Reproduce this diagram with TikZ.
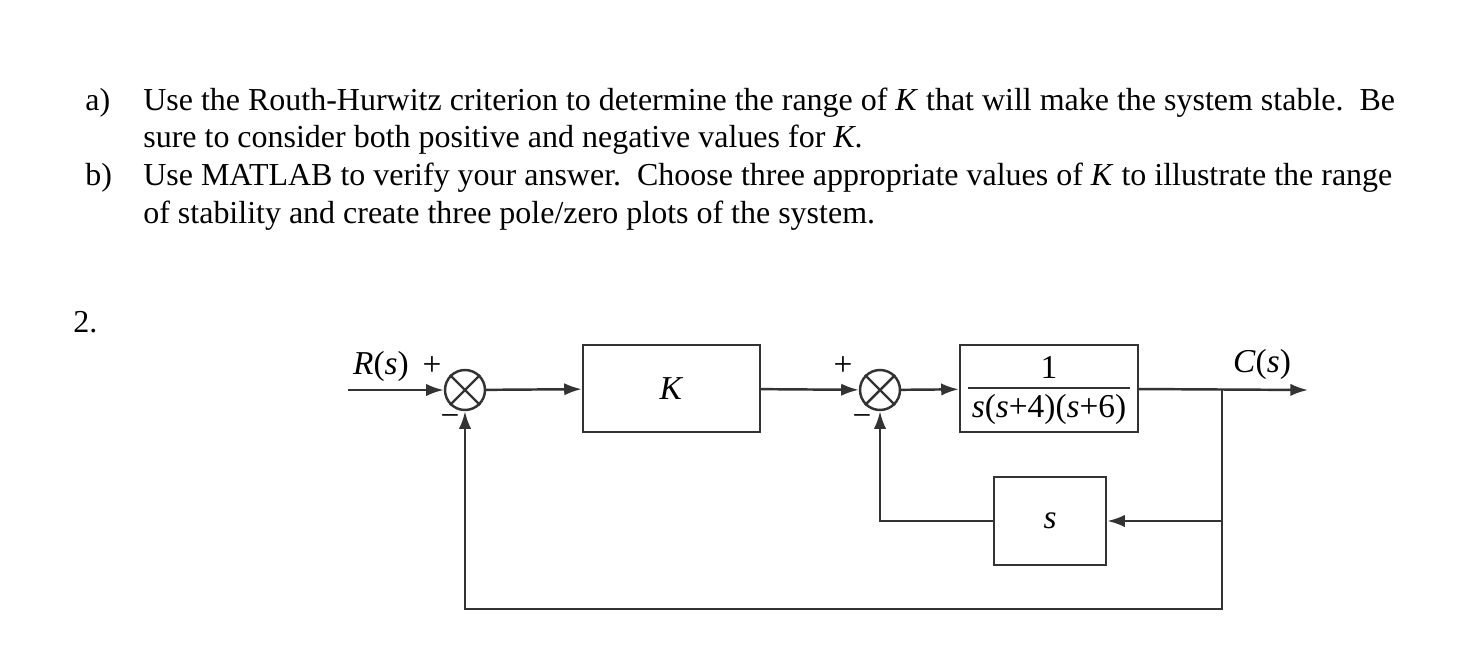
\documentclass[tikz,border=0pt]{standalone}
\usepackage{fontspec}
\setmainfont{Liberation Serif}
\usetikzlibrary{arrows.meta}
\begin{document}
\begin{tikzpicture}[x=0.02cm,y=-0.02cm,
  ln/.style={line width=1.4pt,draw=black!80},
  arr/.style={ln,-{Latex[length=10pt,width=7pt]}},
  blk/.style={ln,draw,rectangle,inner sep=0pt},
  sumj/.style={ln,draw,circle,minimum size=0.8cm,inner sep=0pt},
  txt/.style={font=\fontsize{18.2}{21}\selectfont,anchor=base west,inner sep=0pt},
  lab/.style={font=\fontsize{19}{22}\selectfont,inner sep=0pt}]
\useasboundingbox (0,0) rectangle (1464,666);
% text
\node[txt] (la) at (85,110) {a)};
\node[txt] (t1) at (143,110) {Use the Routh-Hurwitz criterion to determine the range of \textit{K} that will make the system stable.\ \ Be};
\node[txt] (t2) at (143,147) {sure to consider both positive and negative values for \textit{K}.};
\node[txt] (lb) at (85,185) {b)};
\node[txt] (t3) at (143,185) {Use MATLAB to verify your answer.\ \ Choose three appropriate values of \textit{K} to illustrate the range};
\node[txt] (t4) at (143,223) {of stability and create three pole/zero plots of the system.};
\node[txt] (n2) at (73,332) {2.};
% diagram
\coordinate (in) at (348,390);
\node[sumj] (s1) at (465,390) {};
\draw[ln] (s1.north west) -- (s1.south east) (s1.north east) -- (s1.south west);
\node[blk,minimum width=3.54cm,minimum height=1.74cm] (K) at (671.5,388.5) {\fontsize{19}{22}\selectfont\textit{K}};
\node[sumj] (s2) at (880,390) {};
\draw[ln] (s2.north west) -- (s2.south east) (s2.north east) -- (s2.south west);
\node[blk,minimum width=3.56cm,minimum height=1.74cm] (G) at (1049,388.5) {};
\node[lab] (num) at (1049,367) {1};
\node[lab] (den) at (1049,409) {\textit{s}(\textit{s}+4)(\textit{s}+6)};
\draw[ln,line width=1pt] (968,388) -- (1130,388);
\node[blk,minimum width=2.24cm,minimum height=1.76cm] (H) at (1050,521) {\fontsize{19}{22}\selectfont\textit{s}};
\coordinate (br) at (1222,390);
\coordinate (out) at (1308,390);
\coordinate (br2) at (1222,521);
\coordinate (br3) at (1222,609);
\coordinate (c1) at (880,521);
\coordinate (c2) at (465,609);
\draw[arr] (in) -- (s1);
\draw[arr] (s1) -- (K);
\draw[arr] (K) -- (s2);
\draw[arr] (s2) -- (G);
\draw[arr] (G) -- (out);
\draw[arr] (br) -- (br2) -- (H);
\draw[arr] (H) -- (c1) -- (s2);
\draw[arr] (br2) -- (br3) -- (c2) -- (s1);
\node[lab] (Rs) at (381,366) {\textit{R}(\textit{s})};
\node[lab] (p1) at (432,366) {+};
\node[lab] (m1) at (450,421) {−};
\node[lab] (p2) at (843,366) {+};
\node[lab] (m2) at (862,421) {−};
\node[lab] (Cs) at (1262,364) {\textit{C}(\textit{s})};
\end{tikzpicture}
\end{document}
